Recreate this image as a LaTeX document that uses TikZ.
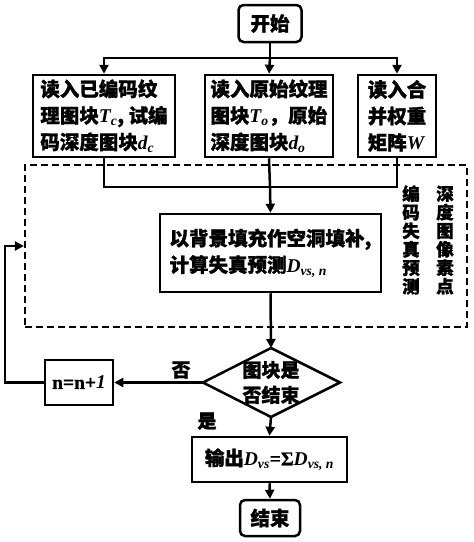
\documentclass[tikz,border=0pt]{standalone}
\usepackage{fontspec}
\setmainfont{Noto Sans CJK SC}[BoldFeatures={FakeBold=1.2}]
\newfontfamily\tnr{Liberation Serif}[BoldFeatures={FakeBold=1}]
\usetikzlibrary{arrows.meta}
\newcommand\vv[2]{{\tnr\bfseries\itshape #1\textsubscript{#2}}}
\tikzset{
  line/.style={line width=2.5pt},
  arr/.style={line width=2.5pt,-{Triangle[length=9pt,width=9pt]}},
  box/.style={draw,line width=2.5pt,inner sep=0pt,align=left,font=\fontsize{19.5}{26.5}\selectfont\bfseries},
  rbox/.style={box,rounded corners=5pt,align=center},
  lbl/.style={font=\fontsize{19}{22}\selectfont\bfseries,inner sep=0pt},
  vtxt/.style={font=\fontsize{17.5}{18.5}\selectfont\bfseries,align=center,inner sep=0pt}
}
\begin{document}
\begin{tikzpicture}[x=1pt,y=-1pt]
\useasboundingbox (0,0) rectangle (474,542);
% dashed region
\node[draw,dashed,line width=2.2pt,dash pattern=on 7pt off 4pt,minimum width=442pt,minimum height=162pt,inner sep=0pt] (region) at (246,246) {};
\node[vtxt] (v1) at (445,240) {深\\度\\图\\像\\素\\点};
\node[vtxt] (v2) at (411,240) {编\\码\\失\\真\\预\\测};
% nodes
\node[rbox,minimum width=63pt,minimum height=37pt] (start) at (270,23.5) {开始};
\node[box,minimum width=142pt,minimum height=82pt] (b1) at (104,116) {读入已编码纹\\理图块\vv{T}{c}, 试编\\码深度图块\vv{d}{c}};
\node[box,minimum width=128pt,minimum height=82pt] (b2) at (269,116) {读入原始纹理\\图块\vv{T}{o}，原始\\深度图块\vv{d}{o}};
\node[box,minimum width=78pt,minimum height=82pt] (b3) at (397,116) {读入合\\并权重\\矩阵{\tnr\bfseries\itshape W}};
\node[box,minimum width=221pt,minimum height=78pt] (proc) at (270.5,253) {以背景填充作空洞填补,\\计算失真预测\vv{D}{vs, n}};
\node[lbl,align=center,font=\fontsize{19}{25}\selectfont\bfseries] (dia) at (271,382.5) {图块是\\否结束};
\coordinate (dt) at (271,348);
\coordinate (db) at (271,417);
\coordinate (dl) at (203,382.5);
\coordinate (dr) at (340,382.5);
\draw[line,line join=miter] (dt) -- (dr) -- (db) -- (dl) -- cycle;
\node[box,align=center,minimum width=68pt,minimum height=45pt] (nb) at (79,382.5) {{\tnr\bfseries n=n+\textit{1}}};
\node[box,align=center,minimum width=155pt,minimum height=45pt] (out) at (269.5,459.5) {输出\vv{D}{vs}{\tnr\bfseries =Σ}\vv{D}{vs, n}};
\node[rbox,minimum width=60pt,minimum height=36pt] (end) at (270,518) {结束};
\node[lbl] (no) at (181,370) {否};
\node[lbl] (yes) at (207,421) {是};
% connectors
\coordinate (t0) at (270,58);
\draw[line] (start.south) -- (t0);
\draw[arr] (t0) -| (b1.north);
\draw[arr] (t0) -- (b2.north);
\draw[arr] (t0) -| (b3.north);
\coordinate (m0) at (270,187);
\draw[line] (b1.south) |- (m0);
\draw[line] (b3.south) |- (m0);
\draw[line] (b2.south) -- (m0);
\draw[arr] (m0) -- (proc.north);
\draw[arr] (proc.south) -- (dt);
\draw[arr] (dl) -- (nb.east);
\coordinate (fb) at (5,246);
\draw[arr] (nb.west) -| (fb) -- (region.west);
\draw[arr] (db) -- (out.north);
\draw[arr] (out.south) -- (end.north);
\end{tikzpicture}
\end{document}
